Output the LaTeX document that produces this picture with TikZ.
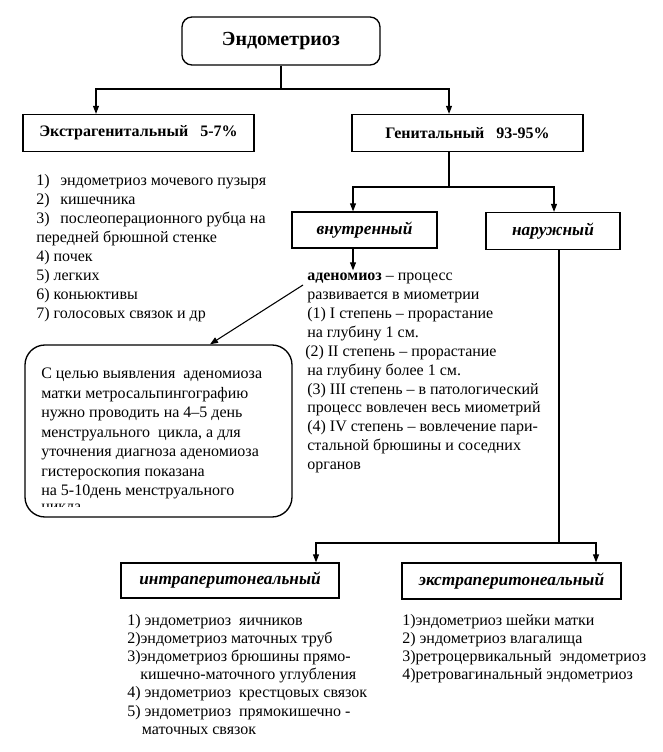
\documentclass[tikz,border=0pt]{standalone}
\usepackage{fontspec}
\setmainfont{Liberation Serif}
\usetikzlibrary{arrows.meta}
\tikzset{arr/.style = {-{Triangle[length=6pt, width=4.5pt]}, line width=0.8pt},
         sqbox/.style = {draw, line width=1pt, inner sep=0pt, minimum height=27.75pt,
                         font=\fontsize{12}{14}\selectfont\bfseries},
         kindbox/.style = {sqbox, font=\fontsize{13}{15}\selectfont\bfseries\itshape},
         listtext/.style = {anchor=north west, inner sep=0pt, align=left,
                            font=\fontsize{12}{14.25}\selectfont}}
\newcommand{\tabnum}[1]{\makebox[18pt][l]{#1}}

\begin{document}
\begin{tikzpicture}[x=0.75pt, y=-0.75pt]
    \useasboundingbox (0, 0) rectangle (662, 752);

    % boxes
    \node [sqbox, rounded corners=7.5pt, minimum width=148.5pt, minimum height=36pt,
           font=\fontsize{15}{17}\selectfont\bfseries] (endo) at (281, 41) {Эндометриоз};
    \node [sqbox, minimum width=173.25pt] (extra) at (138.5, 133) {Экстрагенитальный\ \ \ 5-7\%};
    \node [sqbox, minimum width=173.25pt] (genit) at (467.5, 133) {Генитальный\ \ \ 93-95\%};
    \node [kindbox, minimum width=108.75pt, minimum height=27pt] (inner) at (364.5, 230) {внутренный};
    \node [kindbox, minimum width=100.5pt] (outer) at (553, 231) {наружный};
    \node [kindbox, minimum width=163.5pt, minimum height=26.25pt] (intra) at (230, 580.5) {интраперитонеальный};
    \node [kindbox, minimum width=164.25pt, minimum height=27pt] (extrap) at (511.5, 581) {экстраперитонеальный};
    \node [draw, line width=1pt, rounded corners=15pt, minimum width=200.25pt, minimum height=129pt] (note) at (158.5, 431) {};

    % texts
    \node [listtext] (extralist) at (36, 174) {\tabnum{1)}эндометриоз мочевого пузыря\\
        \tabnum{2)}кишечника\\
        \tabnum{3)}послеоперационного рубца на\\
        передней брюшной стенке\\
        4) почек\\ 5) легких\\ 6) коньюктивы\\ 7) голосовых связок и др};
    \node [listtext, font=\fontsize{12}{14.15}\selectfont] (adeno) at (307, 273) {\textbf{аденомиоз} – процесс\\
        развивается в миометрии\\
        (1) I степень – прорастание\\
        на глубину 1 см.\\
        \hspace{-1.5pt}(2) II степень – прорастание\\
        на глубину более 1 см.\\
        (3) III степень – в патологический\\
        процесс вовлечен весь миометрий\\
        (4) IV степень – вовлечение пари-\\
        стальной брюшины и соседних\\
        органов};
    \begin{scope}
        \clip (25, 345) rectangle (292, 506);
        \node [listtext, font=\fontsize{12}{14.6}\selectfont] (notetext) at (41, 368) {С целью выявления\ \ аденомиоза\\
            матки метросальпингографию\\
            нужно проводить на 4–5 день\\
            менструального\ \ цикла, а для\\
            уточнения диагноза аденомиоза\\
            гистероскопия показана\\
            на 5-10день менструального\\[-3pt]
            цикла};
    \end{scope}
    \node [listtext, font=\fontsize{12}{13.6}\selectfont] (intralist) at (127, 614) {1) эндометриоз\ \ яичников\\
        2)эндометриоз маточных труб\\
        3)эндометриоз брюшины прямо-\\
        \hspace{9.75pt}кишечно-маточного углубления\\
        4) эндометриоз\ \ крестцовых связок\\
        5) эндометриоз\ \ прямокишечно -\\
        \hspace{11pt}маточных связок};
    \node [listtext, font=\fontsize{12}{13.6}\selectfont] (extraplist) at (402, 614) {1)эндометриоз шейки матки\\
        2) эндометриоз влагалища\\
        3)ретроцервикальный\ \ эндометриоз\\
        4)ретровагинальный эндометриоз};

    % connectors
    \coordinate (e1) at (96, 89);
    \coordinate (e2) at (449, 89);
    \coordinate (g0) at (449, 187);
    \coordinate (g1) at (353, 187);
    \coordinate (g2) at (554, 187);
    \coordinate (a0) at (303, 285);
    \coordinate (n1) at (210, 345);
    \coordinate (h0) at (559, 543);
    \coordinate (h1) at (316, 543);
    \coordinate (h2) at (596, 543);

    \draw [line width=0.8pt] (endo.south) -- (endo.south |- e1);
    \draw [arr] (endo.south |- e1) -- (e1) -- (e1 |- extra.north);
    \draw [arr] (endo.south |- e1) -- (e2) -- (e2 |- genit.north);
    \draw [line width=0.8pt] (g0 |- genit.south) -- (g0);
    \draw [arr] (g0) -- (g1) -- (g1 |- inner.north);
    \draw [arr] (g0) -- (g2) -- (g2 |- outer.north);
    \draw [arr] (g1 |- inner.south) -- ([yshift=2pt]g1 |- adeno.north);
    \draw [arr] (a0) -- (n1 |- note.north);
    \draw [line width=0.8pt] (h0 |- outer.south) -- (h0);
    \draw [arr] (h0) -- (h1) -- (h1 |- intra.north);
    \draw [arr] (h0) -- (h2) -- (h2 |- extrap.north);
\end{tikzpicture}
\end{document}
